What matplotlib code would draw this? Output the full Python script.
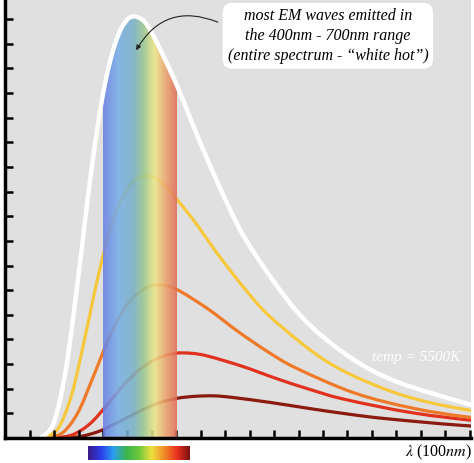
import numpy as np
import matplotlib
matplotlib.use("Agg")
import matplotlib.pyplot as plt
from matplotlib.colors import LinearSegmentedColormap
from matplotlib.path import Path
from matplotlib.patches import PathPatch

plt.rcParams["mathtext.fontset"] = "stix"

# wavelength in units of 100nm, intensity relative to the 5500K peak
x_white = [1.5, 2.0, 2.5, 3.0, 3.5, 4.0, 4.5, 5.0, 5.5, 6.0, 7.0, 8.0, 9.0, 10.0, 12.0, 14.0, 16.0, 19.1]
y_white = [0.002, 0.038, 0.169, 0.388, 0.625, 0.817, 0.937, 0.994, 0.997, 0.962, 0.840, 0.698, 0.567, 0.456, 0.296, 0.196, 0.134, 0.078]

x_yellow = [1.64, 2.18, 2.73, 3.27, 3.82, 4.36, 4.91, 5.46, 6.0, 6.55, 7.64, 8.73, 9.82, 10.91, 13.09, 15.27, 17.46, 20.7]
y_yellow = [0.001, 0.024, 0.105, 0.241, 0.389, 0.508, 0.583, 0.618, 0.620, 0.598, 0.522, 0.434, 0.353, 0.284, 0.184, 0.122, 0.083, 0.049]

x_orange = [1.79, 2.38, 2.98, 3.57, 4.17, 4.76, 5.36, 5.95, 6.55, 7.14, 8.33, 9.52, 10.71, 11.9, 14.28, 16.66, 19.04, 22.6]
y_orange = [0.001, 0.014, 0.061, 0.141, 0.227, 0.297, 0.340, 0.361, 0.362, 0.349, 0.305, 0.253, 0.206, 0.166, 0.107, 0.071, 0.049, 0.029]

x_red = [2.08, 2.77, 3.47, 4.16, 4.85, 5.55, 6.24, 6.94, 7.63, 8.32, 9.71, 11.1, 12.48, 13.87, 16.64, 19.42, 22.2, 26.4]
y_red = [0.0004, 0.008, 0.034, 0.078, 0.126, 0.165, 0.189, 0.201, 0.201, 0.194, 0.170, 0.141, 0.115, 0.092, 0.060, 0.040, 0.027, 0.016]

x_dark = [2.33, 3.11, 3.89, 4.67, 5.45, 6.22, 7.0, 7.78, 8.56, 9.34, 10.89, 12.45, 14.0, 15.56, 18.67, 21.8, 24.9, 29.6]
y_dark = [0.0002, 0.004, 0.017, 0.039, 0.062, 0.082, 0.094, 0.099, 0.100, 0.096, 0.084, 0.070, 0.057, 0.046, 0.030, 0.020, 0.013, 0.008]

curves = [
    (x_dark, y_dark, "#8b1a10"),
    (x_red, y_red, "#e0321e"),
    (x_orange, y_orange, "#ee7a2a"),
    (x_yellow, y_yellow, "#f7c83c"),
]


def smooth_path(xs, ys, close_to_base=False):
    # Catmull-Rom through the points, drawn as cubic Bezier segments
    p = np.column_stack([xs, ys])
    verts = [p[0]]
    codes = [Path.MOVETO]
    for i in range(len(p) - 1):
        p0 = p[i - 1] if i > 0 else p[i]
        p3 = p[i + 2] if i + 2 < len(p) else p[i + 1]
        c1 = p[i] + (p[i + 1] - p0) / 6
        c2 = p[i + 1] - (p3 - p[i]) / 6
        verts += [c1, c2, p[i + 1]]
        codes += [Path.CURVE4] * 3
    if close_to_base:
        verts += [(xs[-1], 0), (xs[0], 0), p[0]]
        codes += [Path.LINETO, Path.LINETO, Path.CLOSEPOLY]
    return Path(verts, codes)


fig = plt.figure(figsize=(4.74, 4.63), dpi=100)
ax = fig.add_axes([0.011, 0.054, 0.983, 0.946])
ax.set_facecolor("#e0e0e0")
ax.set_xlim(0, 19.06)
ax.set_ylim(0, 1.04)

for xs, ys, c in curves:
    ax.add_patch(PathPatch(smooth_path(xs, ys), fc="none", ec=c, lw=2.3, capstyle="round"))

# visible spectrum band under the white curve
spec = LinearSegmentedColormap.from_list("spec", [
    (0.0, "#6a80e4"), (0.2, "#78aee6"), (0.42, "#7ab2c4"), (0.55, "#9cc890"),
    (0.7, "#eee68a"), (0.85, "#eba46e"), (1.0, "#df6e58")])
grad = np.linspace(0, 1, 256).reshape(1, -1)
im = ax.imshow(grad, cmap=spec, extent=[4, 7, 0, 1.0], aspect="auto", alpha=0.88, zorder=3)
clip = PathPatch(smooth_path(x_white, y_white, close_to_base=True), fc="none", ec="none",
                 transform=ax.transData)
ax.add_patch(clip)
im.set_clip_path(clip)

ax.add_patch(PathPatch(smooth_path(x_white, y_white), fc="none", ec="white", lw=3.2,
                       capstyle="round", zorder=4))

# axes styling
for s in ["top", "right"]:
    ax.spines[s].set_visible(False)
for s in ["left", "bottom"]:
    ax.spines[s].set_linewidth(2.5)
    ax.spines[s].set_zorder(5)

ax.set_xticks(np.arange(1, 20, 1))
ax.set_xticks([5, 10, 15], minor=True)
ax.set_yticks(np.arange(1, 18) * 0.0585)
ax.set_yticks(np.array([4, 8, 12, 16]) * 0.0585, minor=True)
ax.tick_params(which="major", direction="in", length=6, width=1.8, labelbottom=False, labelleft=False)
ax.tick_params(which="minor", direction="in", length=14, width=1.8, labelbottom=False, labelleft=False)

ax.text(18.6, 0.19, "temp = 5500K", color="white", fontsize=11, style="italic",
        family="Liberation Serif", ha="right", va="center", zorder=6)

ax.annotate("", xy=(5.3, 0.915), xytext=(8.8, 0.985),
            arrowprops=dict(arrowstyle="-|>", color="#222222", lw=0.8,
                            connectionstyle="arc3,rad=0.45", mutation_scale=7), zorder=6)
ax.text(13.2, 0.955, "most EM waves emitted in\nthe 400nm - 700nm range\n(entire spectrum - \u201cwhite hot\u201d)",
        fontsize=11.5, style="italic", family="Liberation Serif", ha="center", va="center",
        linespacing=1.35, zorder=7,
        bbox=dict(boxstyle="round,pad=0.3,rounding_size=0.6", fc="white", ec="none"))

fig.text(0.995, 0.022, "$\\lambda$ (100$nm$)", fontsize=11.5, family="Liberation Serif",
         ha="right", va="center")

# rainbow bar under the axis
rain = LinearSegmentedColormap.from_list("rain", [
    "#3c1a88", "#2a3ce8", "#2aa0f0", "#3cb44c", "#6cc83c", "#f0e040", "#f08a28", "#e83020", "#7a1010"])
cax = fig.add_axes([88 / 474, 3 / 463, 102 / 474, 14 / 463])
cax.imshow(grad, cmap=rain, aspect="auto")
cax.axis("off")

fig.savefig("out.png", dpi=100)
